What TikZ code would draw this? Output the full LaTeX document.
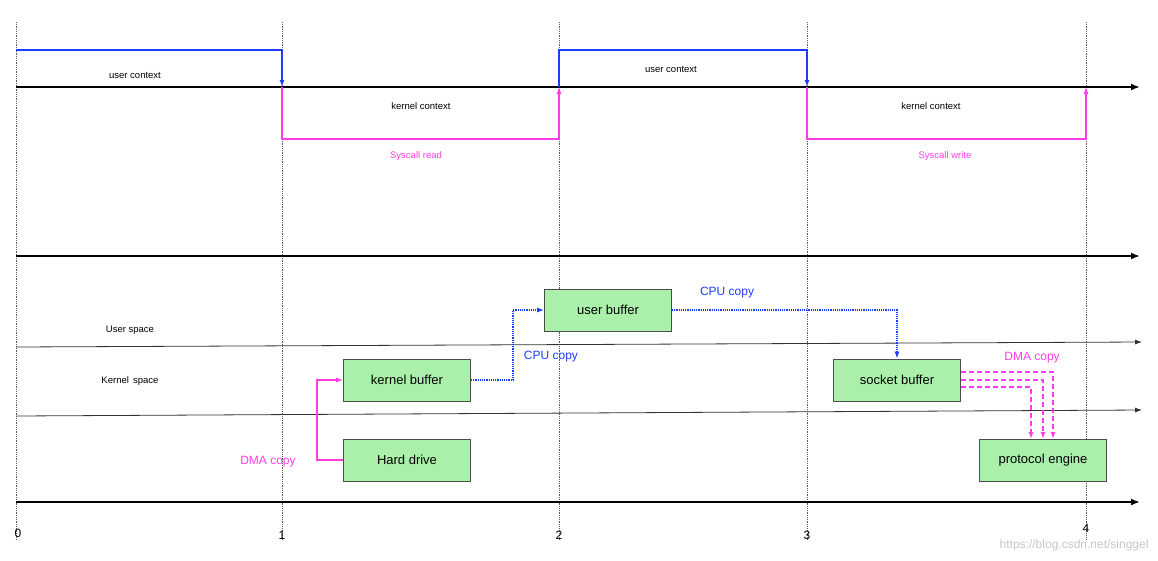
\documentclass[tikz,border=0pt]{standalone}
\usepackage{fontspec}
\setmainfont{Liberation Sans}
\usetikzlibrary{arrows.meta}
\definecolor{bl}{RGB}{30,60,255}
\definecolor{pk}{RGB}{255,60,230}
\definecolor{gbox}{RGB}{170,240,170}
\begin{document}
\begin{tikzpicture}[x=1pt,y=-1pt,
  vline/.style={densely dotted,gray!70!black,line width=0.8pt},
  axis/.style={line width=2pt,-{Latex[length=9pt,width=7pt]}},
  thin/.style={line width=0.8pt,gray!40!black,-{Latex[length=7pt,width=5pt]}},
  box/.style={draw=gray!60!black,fill=gbox,minimum width=127pt,minimum height=42pt,font=\fontsize{13}{15}\selectfont,line width=0.8pt},
  sm/.style={font=\fontsize{9.5}{11}\selectfont},
  blu/.style={bl,line width=1.4pt},
  pnk/.style={pk,line width=1.2pt},
  tip/.style={-{Latex[length=7pt,width=5pt]}},
  lbl/.style={font=\fontsize{12}{14}\selectfont}]
\useasboundingbox (0,0) rectangle (1158,560);
\foreach \x in {16,282,559,807,1086} \draw[vline] (\x,22) -- (\x,540);
\coordinate (a0) at (16,87); \coordinate (a1) at (1140,87);
\coordinate (b0) at (16,256); \coordinate (b1) at (1140,256);
\coordinate (c0) at (16,502); \coordinate (c1) at (1140,502);
\coordinate (u0) at (16,347); \coordinate (u1) at (1142,342);
\coordinate (k0) at (16,416); \coordinate (k1) at (1142,410);
\draw[axis] (a0) -- (a1);
\draw[axis] (b0) -- (b1);
\draw[axis] (c0) -- (c1);
\draw[thin] (u0) -- (u1);
\draw[thin] (k0) -- (k1);
% context lines
\draw[blu,tip] (16,50) -- (282,50) -- (282,87);
\draw[blu,tip] (559,87) -- (559,50) -- (807,50) -- (807,87);
\draw[pnk,tip] (282,87) -- (282,139) -- (559,139) -- (559,87);
\draw[pnk,tip] (807,87) -- (807,139) -- (1086,139) -- (1086,87);
\node[sm] (t1) at (135,75) {user context};
\node[sm] (t2) at (421,106) {kernel context};
\node[sm,pk] (t3) at (416,156) {Syscall read};
\node[sm] (t4) at (671,69) {user context};
\node[sm] (t5) at (931,106) {kernel context};
\node[sm,pk] (t6) at (945,156) {Syscall write};
\node[sm] (us) at (130,330) {User space};
\node[sm] (ks) at (130,381) {Kernel\, space};
% boxes
\node[box] (ub) at (608,310) {user buffer};
\node[box] (kb) at (407,380) {kernel buffer};
\node[box] (hd) at (407,460) {Hard drive};
\node[box] (sb) at (897,380) {socket buffer};
\node[box] (pe) at (1043,460) {protocol engine};
% connectors
\draw[pnk,tip] (hd.west) -- (317,460) -- (317,380) -- (kb.west);
\node[lbl,pk] (d1) at (268,462) {DMA copy};
\draw[bl,line width=1.2pt,densely dotted,tip] (kb.east) -- (513,380) -- (513,310) -- (ub.west);
\node[lbl,bl] (c1l) at (551,357) {CPU copy};
\draw[bl,line width=1.2pt,densely dotted,tip] (ub.east) -- (897,310) -- (sb.north);
\node[lbl,bl] (c2l) at (727,293) {CPU copy};
\draw[pnk,line width=1.5pt,dash pattern=on 5pt off 3pt,tip] (sb.east |- 0,372) -- (1053,372) -- (1053,439);
\draw[pnk,line width=1.5pt,dash pattern=on 5pt off 3pt,tip] (sb.east |- 0,380) -- (1043,380) -- (1043,439);
\draw[pnk,line width=1.5pt,dash pattern=on 5pt off 3pt,tip] (sb.east |- 0,387) -- (1031,387) -- (1031,439);
\node[lbl,pk] (d2) at (1032,358) {DMA copy};
% ticks
\node[font=\fontsize{12}{14}\selectfont] (n0) at (18,533) {0};
\node[font=\fontsize{12}{14}\selectfont] (n1) at (282,535) {1};
\node[font=\fontsize{12}{14}\selectfont] (n2) at (559,535) {2};
\node[font=\fontsize{12}{14}\selectfont] (n3) at (807,535) {3};
\node[font=\fontsize{12}{14}\selectfont] (n4) at (1086,528) {4};
\node[gray!45,font=\fontsize{12}{14}\selectfont,anchor=east] (wm) at (1152,545) {https://blog.csdn.net/singgel};
\end{tikzpicture}
\end{document}
